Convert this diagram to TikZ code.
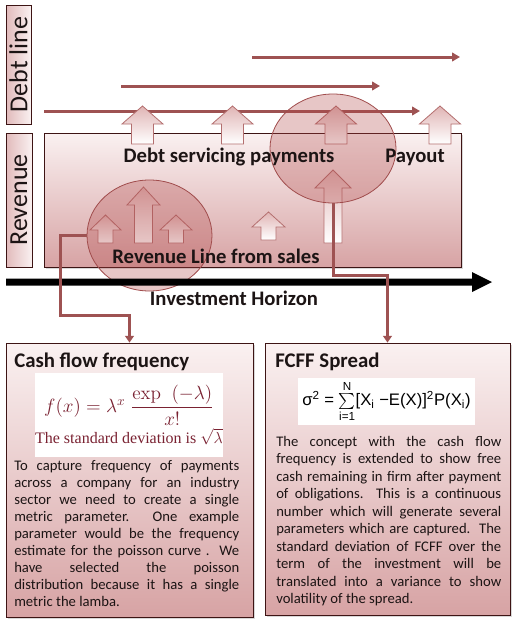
\documentclass[tikz,border=0pt]{standalone}
\usepackage[no-math]{fontspec}
\usepackage{amsmath}
\setsansfont{Carlito}
\newfontfamily\arialish{Liberation Sans}
\newfontfamily\timesish{Liberation Serif}
\usetikzlibrary{shapes.geometric,arrows.meta,shadows}

\definecolor{rosedark}{HTML}{9E5252}
\definecolor{boxtop}{HTML}{FAF1F1}
\definecolor{boxbot}{HTML}{D7A3A4}
\definecolor{frame}{HTML}{3D1414}
\definecolor{arrowpink}{HTML}{E0B4B4}
\definecolor{arrowline}{HTML}{B46F6F}
\definecolor{hotfill}{HTML}{B04545}
\definecolor{hotline}{HTML}{A04C4C}
\definecolor{formulared}{HTML}{7A2232}
\definecolor{ink}{HTML}{1C1414}

\tikzset{
  panel/.style={draw=frame, line width=0.6pt, top color=boxtop, bottom color=boxbot,
    inner sep=0pt, drop shadow={shadow xshift=1.2pt, shadow yshift=-1.2pt, opacity=.3}},
  sidebox/.style={draw=frame, line width=0.6pt, left color=boxbot!75, right color=boxtop,
    inner sep=0pt, font=\sffamily\fontsize{19.5}{22}\selectfont, text=ink},
  uparrow/.style={draw=arrowline, line width=0.6pt, top color=arrowpink, bottom color=white},
  hotspot/.style={ellipse, draw=hotline, line width=0.6pt, fill=hotfill, fill opacity=0.3},
  debtline/.style={draw=rosedark, line width=2.25pt, -{Triangle[length=6pt,width=6.5pt]}},
  link/.style={draw=rosedark, line width=2.25pt, -{Triangle[length=5pt,width=6.5pt]}},
  headline/.style={inner sep=0pt, text=ink, font=\sffamily\bfseries\fontsize{15.5}{17}\selectfont},
  titletext/.style={anchor=west, inner sep=0pt, text=ink, font=\sffamily\bfseries\fontsize{15.6}{18}\selectfont},
  formulapatch/.style={fill=white, inner sep=0pt, align=center},
  bodytext/.style={anchor=north west, inner sep=0pt, text width=168.75pt, align=justify, text=ink,
    font=\sffamily\fontsize{11}{12.75}\selectfont}
}

% block arrow pointing up: centre x, tip y, base y, head half width, shaft half width, head length
\newcommand{\blockup}[6]{%
  \shadedraw[uparrow] ({#1-#5},#3) -- ({#1-#5},{#2+#6}) -- ({#1-#4},{#2+#6}) -- (#1,#2)
    -- ({#1+#4},{#2+#6}) -- ({#1+#5},{#2+#6}) -- ({#1+#5},#3) -- cycle;}

\begin{document}
\begin{tikzpicture}[x=0.75pt,y=-0.75pt,font=\sffamily]
  \fill[white] (0,0) rectangle (515,625);
  \useasboundingbox (0,0) rectangle (515,625);

  % debt time lines
  \foreach \xa/\xb/\yy in {252/460/57, 121/380/86, 44/420/111}
    \draw[debtline] (\xa,\yy) -- (\xb,\yy);

  % side labels and revenue band
  \node[sidebox, rotate=90, minimum width=89.25pt, minimum height=18.75pt] (debtlbl) at (18.5,64.5) {Debt line};
  \node[sidebox, rotate=90, minimum width=100.5pt, minimum height=19.5pt] (revlbl) at (19,200) {Revenue};
  \node[panel, minimum width=312.75pt, minimum height=100.5pt] (revbox) at (252.5,200) {};

  % payments going up to the debt line
  \foreach \ax in {142.5,232.5,336,440}
    \blockup{\ax}{106}{144}{20.5}{11}{18};

  % revenue arrows
  \foreach \ax/\ay/\by/\hwid/\swid/\hlen in {105.5/215/243/15.5/7.5/15, 143.5/187/243/16.5/9/18,
      176/215/243/16/7.5/15, 268.5/212/240/16.5/7.5/15, 333/170/243/18/9/18}
    \blockup{\ax}{\ay}{\by}{\hwid}{\swid}{\hlen};

  % highlighted regions
  \node[hotspot, minimum width=93.75pt, minimum height=83.25pt] (lefthot) at (149.5,235.5) {};
  \node[hotspot, minimum width=94.5pt, minimum height=81.75pt] (righthot) at (333,148.5) {};

  \node[headline] (debtpay) at (229,157) {Debt servicing payments};
  \node[headline] (payout) at (415,157) {Payout};
  \node[headline] (revline) at (216,256) {Revenue Line from sales};

  % investment horizon axis
  \fill[black] (6,278.5) -- (472,278.5) -- (472,272) -- (492,282) -- (472,292) -- (472,285.5) -- (6,285.5) -- cycle;
  \node[headline] (horizon) at (234,298) {Investment Horizon};

  % detail boxes
  \node[panel, minimum width=185.25pt, minimum height=205.5pt] (cashbox) at (129.5,480) {};
  \node[panel, minimum width=183.75pt, minimum height=204pt] (fcffbox) at (387.5,479) {};

  \coordinate (leftbend) at (60,315);
  \coordinate (rightbend) at (387.5,275);
  \draw[link] (lefthot.west) -| (leftbend) -| (cashbox.north);
  \draw[link] (righthot.south) |- (rightbend) -- (fcffbox.north);

  \node[titletext] (cashtitle) at (14,362) {Cash flow frequency};
  \node[titletext] (fcfftitle) at (275,362) {FCFF Spread};

  \node[formulapatch, minimum width=139.5pt, minimum height=63pt, text=formulared,
    font=\timesish\fontsize{14}{16}\selectfont] (poisson) at (129,415)
    {$f(x)=\lambda^{x}\;\dfrac{\exp\;\;(-\lambda)}{x!}$\\[1pt]
    {\fontsize{12}{14}\selectfont The standard deviation is $\sqrt{\lambda}$}};
  \node[formulapatch, minimum width=132.75pt, minimum height=35.25pt, text=black,
    font=\arialish\fontsize{12.5}{14}\selectfont] (variance) at (386.5,401.5)
    {σ\textsuperscript{2} = $\sum\limits_{\text{i=1}}^{\text{N}}$[X\textsubscript{i} −E(X)]\textsuperscript{2}P(X\textsubscript{i})};

  \node[bodytext] (cashbody) at (14,460) {To capture frequency of payments\linebreak
    across a company for an industry\linebreak sector we need to create a single\linebreak
    metric parameter.\ \ One example\linebreak parameter would be the frequency\linebreak
    estimate for the poisson curve .\ \ We\linebreak have selected the poisson\linebreak
    distribution because it has a single\linebreak metric the lamba.};
  \node[bodytext, font=\sffamily\fontsize{11}{13.1}\selectfont] (fcffbody) at (276,436)
    {The concept with the cash flow\linebreak frequency is extended to show free\linebreak
    cash remaining in firm after payment\linebreak of obligations.\ \ This is a continuous\linebreak
    number which will generate several\linebreak parameters which are captured. The\linebreak
    standard deviation of FCFF over the\linebreak term of the investment will be\linebreak
    translated into a variance to show\linebreak volatility of the spread.};
\end{tikzpicture}
\end{document}
